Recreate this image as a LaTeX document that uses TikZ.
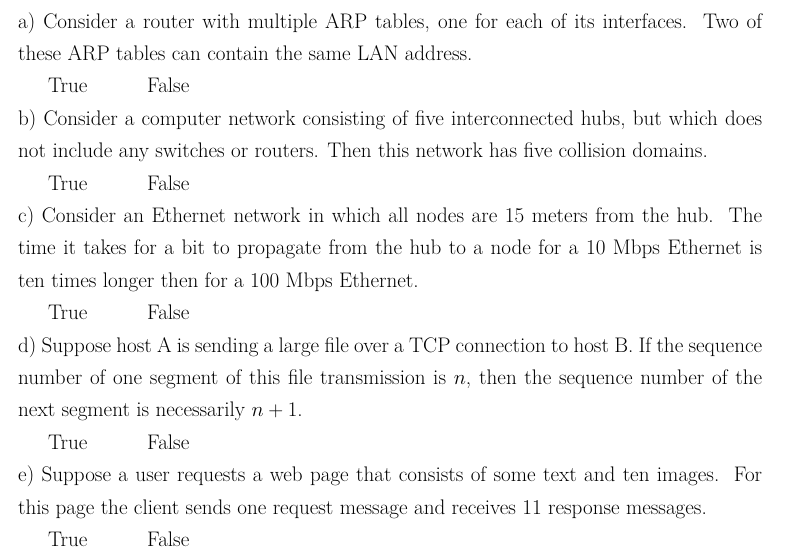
\documentclass[tikz,border=0pt]{standalone}
\begin{document}
\begin{tikzpicture}[x=1pt,y=-1pt,
  ln/.style={anchor=base west,inner sep=0pt,font=\fontsize{21.1}{24}\selectfont}]
\useasboundingbox (0,0) rectangle (788,560);
\newcommand\J[1]{\makebox[744pt][s]{#1}}
\node[ln] (l1) at (18,28) {\J{a) Consider a router with multiple ARP tables, one for each of its interfaces.\ \ Two of}};
\node[ln] (l2) at (18,60) {these ARP tables can contain the same LAN address.};
\node[ln] (t1) at (48,92) {True}; \node[ln] (f1) at (147,92) {False};
\node[ln] (l3) at (18,125) {\J{b) Consider a computer network consisting of five interconnected hubs, but which does}};
\node[ln] (l4) at (18,157) {not include any switches or routers. Then this network has five collision domains.};
\node[ln] (t2) at (48,190) {True}; \node[ln] (f2) at (147,190) {False};
\node[ln] (l5) at (18,222) {\J{c) Consider an Ethernet network in which all nodes are 15 meters from the hub.\ \ The}};
\node[ln] (l6) at (18,254) {\J{time it takes for a bit to propagate from the hub to a node for a 10 Mbps Ethernet is}};
\node[ln] (l7) at (18,287) {ten times longer then for a 100 Mbps Ethernet.};
\node[ln] (t3) at (48,319) {True}; \node[ln] (f3) at (147,319) {False};
\node[ln] (l8) at (18,352) {\J{d) Suppose host A is sending a large file over a TCP connection to host B. If the sequence}};
\node[ln] (l9) at (18,384) {\J{number of one segment of this file transmission is $n$, then the sequence number of the}};
\node[ln] (l10) at (18,416) {next segment is necessarily $n+1$.};
\node[ln] (t4) at (48,449) {True}; \node[ln] (f4) at (147,449) {False};
\node[ln] (l11) at (18,481) {\J{e) Suppose a user requests a web page that consists of some text and ten images.\ \ For}};
\node[ln] (l12) at (18,514) {this page the client sends one request message and receives 11 response messages.};
\node[ln] (t5) at (48,546) {True}; \node[ln] (f5) at (147,546) {False};
\end{tikzpicture}
\end{document}
